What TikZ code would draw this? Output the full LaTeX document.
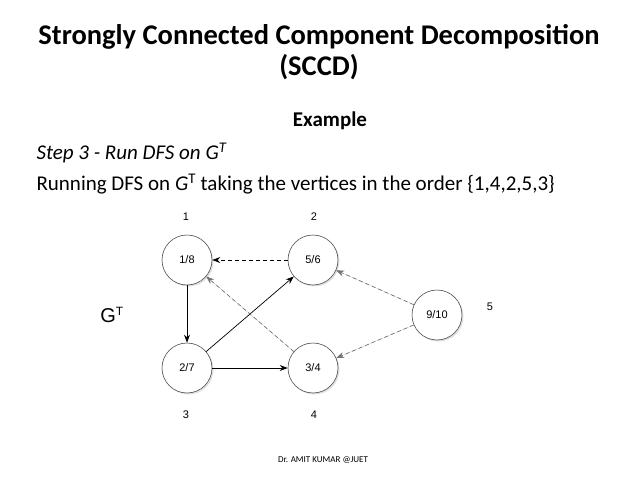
\documentclass[tikz,border=0pt]{standalone}
\usepackage{fontspec}
\setmainfont{Carlito}
\newfontfamily\hel{Liberation Sans}
\usetikzlibrary{arrows.meta,shadows}
\begin{document}
\begin{tikzpicture}[x=1pt,y=-1pt,
  vtx/.style={circle,draw=black!70,line width=0.6pt,fill=white,minimum size=50pt,inner sep=0pt,font=\hel\fontsize{11}{13}\selectfont,drop shadow={shadow xshift=1.5pt,shadow yshift=-1.5pt,opacity=0.25}},
  lab/.style={font=\hel\fontsize{11}{13}\selectfont},
  solid edge/.style={-{Stealth[length=8pt,width=6pt]},line width=0.7pt},
  dash edge/.style={-{Stealth[length=8pt,width=6pt]},line width=0.7pt,dashed,dash pattern=on 4pt off 3pt},
  grey edge/.style={dash edge,draw=black!55,fill=black!55}]
\useasboundingbox (0,0) rectangle (638,479);
\node (t1) at (319,37) {\fontsize{28.5}{32}\selectfont\bfseries Strongly Connected Component Decomposition};
\node (t2) at (319,67) {\fontsize{28.5}{32}\selectfont\bfseries (SCCD)};
\node (ex) at (330,121) {\fontsize{21}{24}\selectfont\bfseries Example};
\node[anchor=west] (s3) at (33,153) {\fontsize{21}{24}\selectfont\itshape Step 3 - Run DFS on G\textsuperscript{T}};
\node[anchor=west] (s4) at (33,184) {\fontsize{21}{24}\selectfont Running DFS on \textit{G}\textsuperscript{T} taking the vertices in the order \{1,4,2,5,3\}};
\node[vtx] (a) at (187,260) {1/8};
\node[vtx] (b) at (313,260) {5/6};
\node[vtx] (c) at (187,368) {2/7};
\node[vtx] (d) at (313,368) {3/4};
\node[vtx] (e) at (437,315) {9/10};
\node[lab] (l1) at (186,217) {1};
\node[lab] (l2) at (314,217) {2};
\node[lab] (l3) at (186,415) {3};
\node[lab] (l4) at (314,415) {4};
\node[lab] (l5) at (490,307) {5};
\node (g) at (112,315) {\hel\fontsize{20}{24}\selectfont G\textsuperscript{\fontsize{12}{14}\selectfont T}};
\draw[solid edge] (a) -- (c);
\draw[solid edge] (c) -- (d);
\draw[solid edge] (c) -- (b);
\draw[dash edge] (b) -- (a);
\draw[grey edge] (d) -- (a);
\draw[grey edge] (e) -- (b);
\draw[grey edge] (e) -- (d);
\node (f) at (323,460) {\fontsize{9}{11}\selectfont Dr. AMIT KUMAR @JUET};
\end{tikzpicture}
\end{document}
